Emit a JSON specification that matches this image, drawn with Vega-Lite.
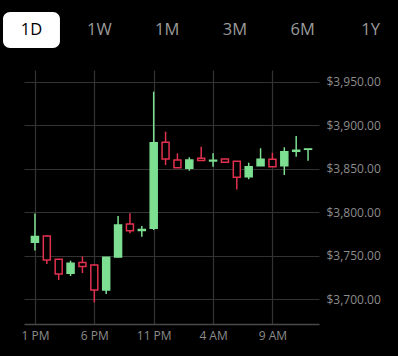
{
  "$schema": "https://vega.github.io/schema/vega-lite/v6.json",
  "width": 295,
  "height": 254,
  "autosize": {"type": "none"},
  "padding": {"left": 24, "top": 70, "right": 79, "bottom": 32},
  "background": "#000000",
  "config": {"view": {"stroke": null}, "font": "Open Sans"},
  "layer": [
    {
      "data": {
        "values": [
          {"t": "2021-05-20T13:00:00Z", "open": 3765.5, "high": 3798.5, "low": 3756.0, "close": 3772.0},
          {"t": "2021-05-20T14:00:00Z", "open": 3772.7, "high": 3773.5, "low": 3740.6, "close": 3745.2},
          {"t": "2021-05-20T15:00:00Z", "open": 3746.0, "high": 3746.5, "low": 3722.2, "close": 3729.1},
          {"t": "2021-05-20T16:00:00Z", "open": 3729.9, "high": 3744.3, "low": 3726.8, "close": 3741.4},
          {"t": "2021-05-20T17:00:00Z", "open": 3742.3, "high": 3749.2, "low": 3730.2, "close": 3737.7},
          {"t": "2021-05-20T18:00:00Z", "open": 3739.4, "high": 3740.0, "low": 3696.3, "close": 3710.7},
          {"t": "2021-05-20T19:00:00Z", "open": 3710.7, "high": 3748.6, "low": 3706.1, "close": 3748.3},
          {"t": "2021-05-20T20:00:00Z", "open": 3748.6, "high": 3795.7, "low": 3748.0, "close": 3785.4},
          {"t": "2021-05-20T21:00:00Z", "open": 3786.5, "high": 3798.8, "low": 3775.8, "close": 3778.8},
          {"t": "2021-05-20T22:00:00Z", "open": 3779.0, "high": 3784.2, "low": 3771.9, "close": 3780.2},
          {"t": "2021-05-20T23:00:00Z", "open": 3781.6, "high": 3938.5, "low": 3779.6, "close": 3879.9},
          {"t": "2021-05-21T00:00:00Z", "open": 3880.4, "high": 3892.6, "low": 3854.3, "close": 3861.2},
          {"t": "2021-05-21T01:00:00Z", "open": 3860.0, "high": 3867.7, "low": 3850.8, "close": 3851.2},
          {"t": "2021-05-21T02:00:00Z", "open": 3850.5, "high": 3863.1, "low": 3847.7, "close": 3860.0},
          {"t": "2021-05-21T03:00:00Z", "open": 3862.0, "high": 3875.3, "low": 3859.0, "close": 3859.5},
          {"t": "2021-05-21T04:00:00Z", "open": 3858.9, "high": 3867.7, "low": 3852.3, "close": 3859.7},
          {"t": "2021-05-21T05:00:00Z", "open": 3861.2, "high": 3861.5, "low": 3857.0, "close": 3857.4},
          {"t": "2021-05-21T06:00:00Z", "open": 3858.5, "high": 3859.0, "low": 3826.1, "close": 3840.2},
          {"t": "2021-05-21T07:00:00Z", "open": 3840.9, "high": 3856.9, "low": 3837.9, "close": 3852.3},
          {"t": "2021-05-21T08:00:00Z", "open": 3853.5, "high": 3873.5, "low": 3853.0, "close": 3860.8},
          {"t": "2021-05-21T09:00:00Z", "open": 3860.8, "high": 3868.4, "low": 3852.0, "close": 3852.3},
          {"t": "2021-05-21T10:00:00Z", "open": 3853.5, "high": 3874.6, "low": 3842.8, "close": 3869.6},
          {"t": "2021-05-21T11:00:00Z", "open": 3870.0, "high": 3887.6, "low": 3863.8, "close": 3871.2},
          {"t": "2021-05-21T12:00:00Z", "open": 3872.3, "high": 3872.7, "low": 3859.2, "close": 3872.7}
        ]
      },
      "encoding": {
        "x": {
          "field": "t",
          "type": "temporal",
          "scale": {
            "type": "utc",
            "domain": [
              {"year": 2021, "month": 5, "date": 20, "hours": 12, "minutes": 30, "utc": true},
              {"year": 2021, "month": 5, "date": 21, "hours": 12, "minutes": 30, "utc": true}
            ]
          },
          "axis": {
            "title": null,
            "values": [
              {"year": 2021, "month": 5, "date": 20, "hours": 13, "utc": true},
              {"year": 2021, "month": 5, "date": 20, "hours": 18, "utc": true},
              {"year": 2021, "month": 5, "date": 20, "hours": 23, "utc": true},
              {"year": 2021, "month": 5, "date": 21, "hours": 4, "utc": true},
              {"year": 2021, "month": 5, "date": 21, "hours": 9, "utc": true}
            ],
            "labelExpr": "replace(utcFormat(datum.value, '%I %p'), /^0/, '')",
            "grid": true,
            "gridColor": "#333333",
            "gridWidth": 1.2,
            "ticks": false,
            "domain": true,
            "domainColor": "#4a4a4a",
            "domainWidth": 1.5,
            "labelColor": "#8c8c8c",
            "labelFontSize": 12,
            "labelPadding": 6,
            "labelFont": "Open Sans"
          }
        }
      },
      "layer": [
        {
          "mark": {"type": "rule", "strokeWidth": 1.5},
          "encoding": {
            "y": {
              "field": "low",
              "type": "quantitative",
              "scale": {"domain": [3671.6, 3963.4], "nice": false, "zero": false},
              "axis": {
                "orient": "right",
                "title": null,
                "values": [3700, 3750, 3800, 3850, 3900, 3950],
                "format": "$,.2f",
                "grid": true,
                "gridColor": "#333333",
                "gridWidth": 1.2,
                "ticks": false,
                "domain": false,
                "labelColor": "#8c8c8c",
                "labelFontSize": 12,
                "labelPadding": 7,
                "labelFont": "Open Sans"
              }
            },
            "y2": {"field": "high"},
            "stroke": {
              "condition": {"test": "datum.close >= datum.open", "value": "#7ddf92"},
              "value": "#e2304f"
            }
          }
        },
        {
          "mark": {"type": "bar", "size": 7, "strokeWidth": 1.5},
          "encoding": {
            "y": {"field": "open", "type": "quantitative"},
            "y2": {"field": "close"},
            "fill": {
              "condition": {"test": "datum.close >= datum.open", "value": "#7ddf92"},
              "value": "#000000"
            },
            "stroke": {
              "condition": {"test": "datum.close >= datum.open", "value": "#7ddf92"},
              "value": "#e2304f"
            }
          }
        }
      ]
    },
    {
      "data": {
        "values": [
          {"tab": "1D", "active": true},
          {"tab": "1W", "active": false},
          {"tab": "1M", "active": false},
          {"tab": "3M", "active": false},
          {"tab": "6M", "active": false},
          {"tab": "1Y", "active": false}
        ]
      },
      "encoding": {
        "x": {
          "field": "tab",
          "type": "nominal",
          "sort": null,
          "scale": {"type": "band", "range": [-21, 375], "paddingInner": 0.16, "paddingOuter": 0},
          "axis": null
        },
        "y": {
          "datum": "tabs",
          "type": "nominal",
          "scale": {"type": "band", "range": [-58, -22], "paddingInner": 0, "paddingOuter": 0},
          "axis": null
        }
      },
      "layer": [
        {
          "transform": [{"filter": "datum.active"}],
          "mark": {"type": "rect", "fill": "#ffffff", "cornerRadius": 7}
        },
        {
          "mark": {"type": "text", "fontSize": 16.5, "font": "Open Sans", "baseline": "middle", "align": "center"},
          "encoding": {
            "text": {"field": "tab"},
            "color": {
              "condition": {"test": "datum.active", "value": "#000000"},
              "value": "#9a9a9a"
            }
          }
        }
      ]
    }
  ],
  "resolve": {"scale": {"x": "independent", "y": "independent"}}
}
